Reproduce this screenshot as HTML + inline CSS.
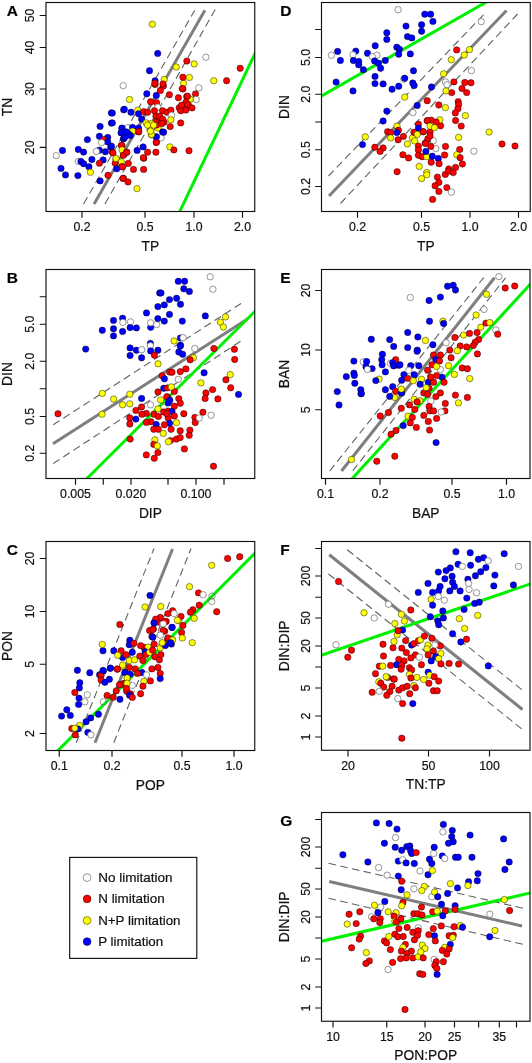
<!DOCTYPE html>
<html><head><meta charset="utf-8"><title>Figure</title>
<style>
html,body{margin:0;padding:0;background:#fff;}
body{width:532px;height:1063px;overflow:hidden;}
svg{display:block;}
text{font-family:"Liberation Sans",sans-serif;fill:#111;stroke:#111;stroke-width:0.2px;}
.tk{font-size:12.3px;}
.lb{font-size:13.8px;}
.pl{font-size:15.5px;font-weight:bold;fill:#000;}
.lg{font-size:13px;}
.ax{stroke:#111;stroke-width:1.15;fill:none;}
.gy{stroke:#7f7f7f;stroke-width:3;fill:none;stroke-linecap:butt;}
.ds{stroke:#606060;stroke-width:1.1;fill:none;stroke-dasharray:7.6 4.4;}
.gn{stroke:#00f000;stroke-width:3;fill:none;}
circle{stroke:#000;stroke-width:0.45;}
.b{fill:#0000ff;}.r{fill:#ff0000;}.y{fill:#ffff00;}.w{fill:#fff;stroke:#6a6a6a;stroke-width:0.7;}.h{fill:none;stroke:#6a6a6a;stroke-width:0.7;}
</style></head><body>
<svg width="532" height="1063" viewBox="0 0 532 1063">
<rect x="0" y="0" width="532" height="1063" fill="#fff"/>
<g id="panel-A">
<clipPath id="cp0"><rect x="46.00" y="2.50" width="208.75" height="209.00"/></clipPath>
<g clip-path="url(#cp0)">
<line class="gy" x1="94.10" y1="203.90" x2="204.90" y2="10.30"/>
<line class="ds" x1="83.60" y1="203.90" x2="194.70" y2="10.30"/>
<line class="ds" x1="105.00" y1="203.90" x2="215.20" y2="9.50"/>
<line class="gn" x1="177.50" y1="216.22" x2="257.00" y2="49.27"/>
<circle class="b" cx="111.4" cy="112.9" r="3.2"/><circle class="b" cx="123.7" cy="109.8" r="3.2"/><circle class="b" cx="111.4" cy="123.1" r="3.2"/><circle class="b" cx="100.1" cy="126.4" r="3.2"/><circle class="b" cx="121.9" cy="128.3" r="3.2"/><circle class="b" cx="121.2" cy="132.9" r="3.2"/><circle class="b" cx="99.4" cy="136.3" r="3.2"/><circle class="b" cx="107.7" cy="137.4" r="3.2"/><circle class="b" cx="87.4" cy="139.6" r="3.2"/><circle class="r" cx="103.9" cy="139.6" r="3.2"/><circle class="b" cx="107.7" cy="141.9" r="3.2"/><circle class="w" cx="101.6" cy="142.6" r="3.2"/><circle class="b" cx="123.4" cy="138.9" r="3.2"/><circle class="r" cx="121.9" cy="145.6" r="3.2"/><circle class="b" cx="110.7" cy="147.1" r="3.2"/><circle class="b" cx="62.5" cy="150.5" r="3.2"/><circle class="b" cx="78.3" cy="149.4" r="3.2"/><circle class="b" cx="83.6" cy="152.1" r="3.2"/><circle class="b" cx="99.4" cy="150.2" r="3.2"/><circle class="b" cx="105.4" cy="151.7" r="3.2"/><circle class="w" cx="96.4" cy="151.4" r="3.2"/><circle class="r" cx="112.2" cy="152.0" r="3.2"/><circle class="w" cx="56.2" cy="155.7" r="3.2"/><circle class="r" cx="123.4" cy="154.7" r="3.2"/><circle class="b" cx="91.9" cy="159.5" r="3.2"/><circle class="b" cx="103.1" cy="159.9" r="3.2"/><circle class="y" cx="115.9" cy="159.2" r="3.2"/><circle class="y" cx="121.2" cy="161.9" r="3.2"/><circle class="w" cx="78.3" cy="161.4" r="3.2"/><circle class="b" cx="80.9" cy="161.4" r="3.2"/><circle class="b" cx="83.6" cy="163.7" r="3.2"/><circle class="b" cx="88.9" cy="166.7" r="3.2"/><circle class="r" cx="99.4" cy="163.2" r="3.2"/><circle class="r" cx="115.2" cy="163.2" r="3.2"/><circle class="b" cx="61.0" cy="168.4" r="3.2"/><circle class="r" cx="121.9" cy="166.7" r="3.2"/><circle class="b" cx="116.7" cy="168.8" r="3.2"/><circle class="b" cx="65.5" cy="174.9" r="3.2"/><circle class="b" cx="77.9" cy="175.6" r="3.2"/><circle class="y" cx="90.4" cy="172.3" r="3.2"/><circle class="b" cx="100.1" cy="180.9" r="3.2"/><circle class="r" cx="108.0" cy="175.3" r="3.2"/><circle class="r" cx="123.4" cy="178.3" r="3.2"/><circle class="w" cx="123.2" cy="85.7" r="3.2"/><circle class="y" cx="129.5" cy="99.5" r="3.2"/><circle class="b" cx="146.8" cy="93.8" r="3.2"/><circle class="b" cx="156.3" cy="95.5" r="3.2"/><circle class="r" cx="155.1" cy="84.5" r="3.2"/><circle class="b" cx="155.1" cy="80.8" r="3.2"/><circle class="y" cx="164.2" cy="79.5" r="3.2"/><circle class="r" cx="163.4" cy="86.0" r="3.2"/><circle class="r" cx="160.4" cy="90.5" r="3.2"/><circle class="r" cx="169.4" cy="94.7" r="3.2"/><circle class="y" cx="183.5" cy="83.3" r="3.2"/><circle class="r" cx="182.9" cy="89.0" r="3.2"/><circle class="r" cx="178.4" cy="97.7" r="3.2"/><circle class="r" cx="186.7" cy="96.5" r="3.2"/><circle class="r" cx="188.2" cy="101.0" r="3.2"/><circle class="r" cx="150.6" cy="101.8" r="3.2"/><circle class="r" cx="156.6" cy="102.6" r="3.2"/><circle class="w" cx="157.8" cy="107.1" r="3.2"/><circle class="b" cx="124.3" cy="109.3" r="3.2"/><circle class="b" cx="131.0" cy="112.3" r="3.2"/><circle class="b" cx="112.3" cy="113.1" r="3.2"/><circle class="y" cx="137.8" cy="110.1" r="3.2"/><circle class="b" cx="138.6" cy="113.8" r="3.2"/><circle class="r" cx="143.8" cy="111.6" r="3.2"/><circle class="r" cx="147.6" cy="112.3" r="3.2"/><circle class="r" cx="154.4" cy="110.8" r="3.2"/><circle class="r" cx="162.6" cy="110.8" r="3.2"/><circle class="r" cx="167.1" cy="112.3" r="3.2"/><circle class="r" cx="170.9" cy="110.1" r="3.2"/><circle class="r" cx="179.2" cy="107.8" r="3.2"/><circle class="r" cx="183.7" cy="107.1" r="3.2"/><circle class="r" cx="180.7" cy="110.8" r="3.2"/><circle class="r" cx="185.9" cy="110.1" r="3.2"/><circle class="r" cx="188.2" cy="104.8" r="3.2"/><circle class="w" cx="171.7" cy="115.3" r="3.2"/><circle class="r" cx="155.9" cy="116.1" r="3.2"/><circle class="y" cx="170.9" cy="119.8" r="3.2"/><circle class="r" cx="159.6" cy="119.8" r="3.2"/><circle class="r" cx="164.1" cy="122.1" r="3.2"/><circle class="r" cx="155.9" cy="122.1" r="3.2"/><circle class="b" cx="141.6" cy="119.1" r="3.2"/><circle class="y" cx="146.1" cy="122.9" r="3.2"/><circle class="y" cx="151.4" cy="123.6" r="3.2"/><circle class="r" cx="180.7" cy="122.9" r="3.2"/><circle class="r" cx="170.2" cy="126.6" r="3.2"/><circle class="b" cx="112.3" cy="122.9" r="3.2"/><circle class="w" cx="128.0" cy="127.8" r="3.2"/><circle class="b" cx="122.0" cy="128.1" r="3.2"/><circle class="b" cx="132.6" cy="127.4" r="3.2"/><circle class="b" cx="138.6" cy="128.1" r="3.2"/><circle class="r" cx="138.6" cy="131.9" r="3.2"/><circle class="y" cx="132.6" cy="131.1" r="3.2"/><circle class="b" cx="121.3" cy="132.6" r="3.2"/><circle class="b" cx="128.8" cy="134.1" r="3.2"/><circle class="b" cx="124.3" cy="137.9" r="3.2"/><circle class="y" cx="151.4" cy="128.9" r="3.2"/><circle class="y" cx="158.1" cy="128.1" r="3.2"/><circle class="b" cx="162.6" cy="131.9" r="3.2"/><circle class="y" cx="151.4" cy="134.9" r="3.2"/><circle class="b" cx="156.3" cy="137.1" r="3.2"/><circle class="w" cx="161.1" cy="137.9" r="3.2"/><circle class="r" cx="156.3" cy="142.4" r="3.2"/><circle class="b" cx="111.5" cy="146.2" r="3.2"/><circle class="r" cx="121.3" cy="145.4" r="3.2"/><circle class="y" cx="122.0" cy="149.9" r="3.2"/><circle class="b" cx="143.1" cy="146.9" r="3.2"/><circle class="b" cx="137.1" cy="150.4" r="3.2"/><circle class="r" cx="147.6" cy="152.2" r="3.2"/><circle class="r" cx="155.9" cy="152.2" r="3.2"/><circle class="y" cx="169.8" cy="146.9" r="3.2"/><circle class="r" cx="173.9" cy="149.9" r="3.2"/><circle class="r" cx="189.0" cy="150.7" r="3.2"/><circle class="r" cx="126.5" cy="152.2" r="3.2"/><circle class="r" cx="123.5" cy="155.2" r="3.2"/><circle class="r" cx="113.0" cy="152.9" r="3.2"/><circle class="y" cx="116.0" cy="158.5" r="3.2"/><circle class="r" cx="143.8" cy="158.2" r="3.2"/><circle class="y" cx="152.3" cy="24.2" r="3.2"/><circle class="b" cx="157.7" cy="53.4" r="3.2"/><circle class="b" cx="149.5" cy="70.7" r="3.2"/><circle class="y" cx="176.2" cy="67.0" r="3.2"/><circle class="r" cx="186.8" cy="61.1" r="3.2"/><circle class="y" cx="194.2" cy="63.9" r="3.2"/><circle class="w" cx="205.9" cy="57.2" r="3.2"/><circle class="r" cx="182.9" cy="77.2" r="3.2"/><circle class="y" cx="189.4" cy="77.5" r="3.2"/><circle class="r" cx="154.8" cy="83.2" r="3.2"/><circle class="r" cx="163.0" cy="84.0" r="3.2"/><circle class="r" cx="240.2" cy="68.3" r="3.2"/><circle class="r" cx="226.6" cy="80.7" r="3.2"/><circle class="y" cx="213.8" cy="80.7" r="3.2"/><circle class="w" cx="198.8" cy="87.9" r="3.2"/><circle class="r" cx="182.3" cy="88.6" r="3.2"/><circle class="r" cx="195.5" cy="93.9" r="3.2"/><circle class="w" cx="196.2" cy="99.5" r="3.2"/><circle class="y" cx="190.2" cy="99.2" r="3.2"/><circle class="r" cx="187.5" cy="96.2" r="3.2"/><circle class="r" cx="186.0" cy="102.2" r="3.2"/><circle class="r" cx="187.5" cy="104.4" r="3.2"/><circle class="r" cx="192.0" cy="107.9" r="3.2"/><circle class="r" cx="181.5" cy="105.2" r="3.2"/><circle class="y" cx="137.0" cy="188.6" r="3.2"/><circle class="r" cx="123.0" cy="178.4" r="3.2"/><circle class="r" cx="128.0" cy="181.9" r="3.2"/><circle class="r" cx="133.5" cy="169.4" r="3.2"/><circle class="r" cx="143.6" cy="169.4" r="3.2"/><circle class="r" cx="128.3" cy="163.4" r="3.2"/><circle class="r" cx="122.3" cy="166.8" r="3.2"/><circle class="r" cx="143.3" cy="157.8" r="3.2"/><circle class="r" cx="126.8" cy="152.3" r="3.2"/><circle class="r" cx="156.4" cy="142.3" r="3.2"/><circle class="b" cx="156.5" cy="136.8" r="3.2"/><circle class="b" cx="163.6" cy="132.3" r="3.2"/><circle class="y" cx="151.6" cy="134.5" r="3.2"/><circle class="r" cx="138.8" cy="131.5" r="3.2"/><circle class="r" cx="159.6" cy="116.1" r="3.2"/><circle class="r" cx="162.6" cy="119.1" r="3.2"/><circle class="r" cx="156.6" cy="125.1" r="3.2"/><circle class="r" cx="161.9" cy="123.6" r="3.2"/><circle class="y" cx="147.6" cy="125.1" r="3.2"/><circle class="y" cx="153.6" cy="125.1" r="3.2"/><circle class="y" cx="150.6" cy="131.1" r="3.2"/><circle class="b" cx="125.0" cy="136.4" r="3.2"/><circle class="b" cx="130.3" cy="135.6" r="3.2"/><circle class="b" cx="126.5" cy="131.9" r="3.2"/>
</g>
<rect class="ax" x="46.00" y="2.50" width="208.75" height="209.00"/>
<path class="ax" d="M39.70 15.50H46.00M39.70 47.50H46.00M39.70 89.00H46.00M39.70 147.30H46.00M82.00 211.50V217.80M145.00 211.50V217.80M194.00 211.50V217.80M242.50 211.50V217.80"/>
<text class="tk" text-anchor="middle" transform="translate(34.20 15.50) rotate(-90)">50</text>
<text class="tk" text-anchor="middle" transform="translate(34.20 47.50) rotate(-90)">40</text>
<text class="tk" text-anchor="middle" transform="translate(34.20 89.00) rotate(-90)">30</text>
<text class="tk" text-anchor="middle" transform="translate(34.20 147.30) rotate(-90)">20</text>
<text class="tk" text-anchor="middle" x="82.00" y="230.80">0.2</text>
<text class="tk" text-anchor="middle" x="145.00" y="230.80">0.5</text>
<text class="tk" text-anchor="middle" x="194.00" y="230.80">1.0</text>
<text class="tk" text-anchor="middle" x="242.50" y="230.80">2.0</text>
<text class="lb" text-anchor="middle" transform="translate(12.00 107.00) rotate(-90)">TN</text>
<text class="lb" text-anchor="middle" x="150.38" y="250.50">TP</text>
<text class="pl" x="6.70" y="16.20">A</text>
</g>
<g id="panel-B">
<clipPath id="cp1"><rect x="46.00" y="269.50" width="208.75" height="209.00"/></clipPath>
<g clip-path="url(#cp1)">
<line class="gy" x1="53.00" y1="443.75" x2="247.50" y2="319.00"/>
<line class="ds" x1="53.25" y1="424.75" x2="242.50" y2="302.50"/>
<line class="ds" x1="53.25" y1="463.50" x2="242.50" y2="340.00"/>
<line class="gn" x1="81.97" y1="483.51" x2="259.78" y2="306.49"/>
<circle class="b" cx="85.7" cy="349.1" r="3.2"/><circle class="b" cx="102.3" cy="330.3" r="3.2"/><circle class="b" cx="113.5" cy="320.4" r="3.2"/><circle class="b" cx="113.5" cy="328.8" r="3.2"/><circle class="b" cx="113.5" cy="335.9" r="3.2"/><circle class="b" cx="122.6" cy="318.3" r="3.2"/><circle class="w" cx="122.9" cy="322.4" r="3.2"/><circle class="b" cx="122.6" cy="331.4" r="3.2"/><circle class="w" cx="130.4" cy="321.9" r="3.2"/><circle class="b" cx="130.1" cy="327.6" r="3.2"/><circle class="b" cx="136.4" cy="327.9" r="3.2"/><circle class="b" cx="146.5" cy="312.9" r="3.2"/><circle class="b" cx="150.7" cy="327.3" r="3.2"/><circle class="w" cx="150.7" cy="322.8" r="3.2"/><circle class="w" cx="156.7" cy="324.6" r="3.2"/><circle class="b" cx="157.9" cy="318.6" r="3.2"/><circle class="b" cx="157.9" cy="306.6" r="3.2"/><circle class="b" cx="159.7" cy="293.0" r="3.2"/><circle class="b" cx="130.1" cy="347.9" r="3.2"/><circle class="b" cx="136.4" cy="350.2" r="3.2"/><circle class="w" cx="141.7" cy="349.7" r="3.2"/><circle class="b" cx="150.4" cy="343.4" r="3.2"/><circle class="w" cx="150.4" cy="345.7" r="3.2"/><circle class="b" cx="150.7" cy="350.9" r="3.2"/><circle class="b" cx="157.9" cy="350.2" r="3.2"/><circle class="b" cx="130.1" cy="355.5" r="3.2"/><circle class="w" cx="210.2" cy="276.8" r="3.2"/><circle class="w" cx="212.9" cy="289.2" r="3.2"/><circle class="b" cx="178.3" cy="281.3" r="3.2"/><circle class="b" cx="184.6" cy="281.3" r="3.2"/><circle class="b" cx="183.8" cy="288.8" r="3.2"/><circle class="b" cx="189.4" cy="291.5" r="3.2"/><circle class="b" cx="161.0" cy="293.0" r="3.2"/><circle class="b" cx="169.5" cy="299.6" r="3.2"/><circle class="b" cx="176.6" cy="298.3" r="3.2"/><circle class="b" cx="180.5" cy="304.3" r="3.2"/><circle class="b" cx="164.3" cy="304.9" r="3.2"/><circle class="b" cx="169.5" cy="314.4" r="3.2"/><circle class="b" cx="164.3" cy="321.1" r="3.2"/><circle class="b" cx="182.3" cy="321.1" r="3.2"/><circle class="b" cx="205.3" cy="315.9" r="3.2"/><circle class="y" cx="225.5" cy="316.9" r="3.2"/><circle class="y" cx="220.4" cy="322.2" r="3.2"/><circle class="y" cx="223.4" cy="327.1" r="3.2"/><circle class="y" cx="174.1" cy="341.0" r="3.2"/><circle class="b" cx="180.5" cy="338.0" r="3.2"/><circle class="w" cx="183.1" cy="337.7" r="3.2"/><circle class="b" cx="180.5" cy="345.2" r="3.2"/><circle class="w" cx="194.8" cy="348.5" r="3.2"/><circle class="r" cx="213.9" cy="348.5" r="3.2"/><circle class="b" cx="141.6" cy="357.8" r="3.2"/><circle class="r" cx="154.4" cy="355.2" r="3.2"/><circle class="y" cx="158.0" cy="363.8" r="3.2"/><circle class="r" cx="162.2" cy="375.8" r="3.2"/><circle class="b" cx="164.4" cy="378.8" r="3.2"/><circle class="r" cx="169.7" cy="372.1" r="3.2"/><circle class="y" cx="102.3" cy="393.4" r="3.2"/><circle class="y" cx="113.6" cy="399.1" r="3.2"/><circle class="y" cx="129.8" cy="394.2" r="3.2"/><circle class="y" cx="122.6" cy="404.8" r="3.2"/><circle class="y" cx="129.8" cy="403.9" r="3.2"/><circle class="y" cx="102.0" cy="414.2" r="3.2"/><circle class="b" cx="141.6" cy="398.4" r="3.2"/><circle class="w" cx="150.6" cy="404.8" r="3.2"/><circle class="r" cx="158.0" cy="391.9" r="3.2"/><circle class="b" cx="163.7" cy="388.3" r="3.2"/><circle class="r" cx="167.4" cy="387.9" r="3.2"/><circle class="y" cx="160.7" cy="399.9" r="3.2"/><circle class="r" cx="167.4" cy="396.9" r="3.2"/><circle class="h" cx="163.7" cy="407.4" r="3.2"/><circle class="y" cx="158.0" cy="408.9" r="3.2"/><circle class="r" cx="141.6" cy="407.0" r="3.2"/><circle class="r" cx="135.9" cy="410.4" r="3.2"/><circle class="r" cx="146.4" cy="413.4" r="3.2"/><circle class="r" cx="141.9" cy="414.2" r="3.2"/><circle class="r" cx="129.8" cy="417.9" r="3.2"/><circle class="b" cx="135.9" cy="419.1" r="3.2"/><circle class="r" cx="129.8" cy="424.0" r="3.2"/><circle class="r" cx="153.9" cy="414.2" r="3.2"/><circle class="r" cx="158.4" cy="416.4" r="3.2"/><circle class="r" cx="150.9" cy="421.7" r="3.2"/><circle class="r" cx="146.4" cy="422.4" r="3.2"/><circle class="r" cx="163.7" cy="411.9" r="3.2"/><circle class="r" cx="168.2" cy="411.2" r="3.2"/><circle class="b" cx="168.2" cy="402.9" r="3.2"/><circle class="r" cx="168.2" cy="417.9" r="3.2"/><circle class="b" cx="156.2" cy="424.5" r="3.2"/><circle class="b" cx="180.3" cy="346.0" r="3.2"/><circle class="b" cx="178.8" cy="352.0" r="3.2"/><circle class="b" cx="182.6" cy="354.3" r="3.2"/><circle class="r" cx="234.4" cy="349.3" r="3.2"/><circle class="r" cx="234.7" cy="359.5" r="3.2"/><circle class="y" cx="193.4" cy="357.7" r="3.2"/><circle class="r" cx="190.1" cy="359.8" r="3.2"/><circle class="r" cx="185.9" cy="368.9" r="3.2"/><circle class="r" cx="180.3" cy="371.6" r="3.2"/><circle class="r" cx="172.0" cy="372.3" r="3.2"/><circle class="w" cx="178.3" cy="379.4" r="3.2"/><circle class="b" cx="204.1" cy="372.8" r="3.2"/><circle class="y" cx="200.9" cy="382.9" r="3.2"/><circle class="y" cx="230.2" cy="374.6" r="3.2"/><circle class="r" cx="225.9" cy="379.8" r="3.2"/><circle class="r" cx="230.7" cy="387.8" r="3.2"/><circle class="b" cx="238.5" cy="394.4" r="3.2"/><circle class="r" cx="212.6" cy="389.6" r="3.2"/><circle class="r" cx="205.9" cy="392.9" r="3.2"/><circle class="r" cx="205.1" cy="398.6" r="3.2"/><circle class="r" cx="217.9" cy="398.9" r="3.2"/><circle class="r" cx="174.3" cy="391.4" r="3.2"/><circle class="y" cx="171.3" cy="386.9" r="3.2"/><circle class="r" cx="166.8" cy="396.8" r="3.2"/><circle class="b" cx="169.8" cy="400.2" r="3.2"/><circle class="r" cx="178.8" cy="398.6" r="3.2"/><circle class="r" cx="180.3" cy="403.2" r="3.2"/><circle class="r" cx="174.3" cy="406.2" r="3.2"/><circle class="b" cx="172.0" cy="411.4" r="3.2"/><circle class="r" cx="166.8" cy="413.7" r="3.2"/><circle class="r" cx="174.3" cy="415.9" r="3.2"/><circle class="r" cx="183.8" cy="413.7" r="3.2"/><circle class="r" cx="202.9" cy="412.2" r="3.2"/><circle class="r" cx="194.9" cy="417.4" r="3.2"/><circle class="w" cx="211.1" cy="415.2" r="3.2"/><circle class="r" cx="130.2" cy="439.1" r="3.2"/><circle class="r" cx="153.8" cy="429.3" r="3.2"/><circle class="r" cx="158.3" cy="429.3" r="3.2"/><circle class="r" cx="195.2" cy="422.6" r="3.2"/><circle class="y" cx="176.4" cy="422.6" r="3.2"/><circle class="b" cx="169.6" cy="423.3" r="3.2"/><circle class="r" cx="164.4" cy="424.8" r="3.2"/><circle class="r" cx="171.1" cy="429.3" r="3.2"/><circle class="r" cx="180.2" cy="430.8" r="3.2"/><circle class="r" cx="189.9" cy="430.1" r="3.2"/><circle class="r" cx="189.2" cy="435.3" r="3.2"/><circle class="y" cx="163.3" cy="433.4" r="3.2"/><circle class="r" cx="176.4" cy="439.1" r="3.2"/><circle class="r" cx="180.2" cy="437.6" r="3.2"/><circle class="y" cx="154.9" cy="439.8" r="3.2"/><circle class="r" cx="170.4" cy="440.6" r="3.2"/><circle class="y" cx="168.4" cy="441.8" r="3.2"/><circle class="r" cx="153.8" cy="444.4" r="3.2"/><circle class="y" cx="157.3" cy="445.9" r="3.2"/><circle class="r" cx="184.4" cy="448.9" r="3.2"/><circle class="r" cx="157.9" cy="452.6" r="3.2"/><circle class="r" cx="146.3" cy="454.9" r="3.2"/><circle class="r" cx="154.3" cy="458.3" r="3.2"/><circle class="w" cx="199.3" cy="418.0" r="3.2"/><circle class="r" cx="213.5" cy="466.3" r="3.2"/><circle class="r" cx="58.0" cy="413.8" r="3.2"/>
</g>
<rect class="ax" x="46.00" y="269.50" width="208.75" height="209.00"/>
<path class="ax" d="M39.70 296.75H46.00M39.70 324.25H46.00M39.70 361.25H46.00M39.70 388.75H46.00M39.70 416.50H46.00M39.70 453.20H46.00M75.50 478.50V484.80M103.25 478.50V484.80M131.00 478.50V484.80M168.00 478.50V484.80M196.00 478.50V484.80M224.00 478.50V484.80"/>
<text class="tk" text-anchor="middle" transform="translate(34.20 324.25) rotate(-90)">5.0</text>
<text class="tk" text-anchor="middle" transform="translate(34.20 361.25) rotate(-90)">2.0</text>
<text class="tk" text-anchor="middle" transform="translate(34.20 416.50) rotate(-90)">0.5</text>
<text class="tk" text-anchor="middle" transform="translate(34.20 453.20) rotate(-90)">0.2</text>
<text class="tk" text-anchor="middle" x="75.50" y="497.80">0.005</text>
<text class="tk" text-anchor="middle" x="131.00" y="497.80">0.020</text>
<text class="tk" text-anchor="middle" x="196.00" y="497.80">0.100</text>
<text class="lb" text-anchor="middle" transform="translate(12.00 374.00) rotate(-90)">DIN</text>
<text class="lb" text-anchor="middle" x="150.38" y="517.50">DIP</text>
<text class="pl" x="6.70" y="283.20">B</text>
</g>
<g id="panel-C">
<clipPath id="cp2"><rect x="46.00" y="541.50" width="208.75" height="209.00"/></clipPath>
<g clip-path="url(#cp2)">
<line class="gy" x1="95.00" y1="742.75" x2="172.50" y2="549.00"/>
<line class="ds" x1="76.25" y1="742.75" x2="154.00" y2="548.50"/>
<line class="ds" x1="113.75" y1="742.75" x2="191.00" y2="548.50"/>
<line class="gn" x1="52.10" y1="756.41" x2="260.65" y2="547.59"/>
<circle class="b" cx="77.4" cy="670.3" r="3.2"/><circle class="b" cx="89.8" cy="672.8" r="3.2"/><circle class="b" cx="103.4" cy="671.0" r="3.2"/><circle class="b" cx="110.2" cy="668.3" r="3.2"/><circle class="r" cx="117.4" cy="669.2" r="3.2"/><circle class="y" cx="122.9" cy="666.5" r="3.2"/><circle class="b" cx="99.6" cy="674.8" r="3.2"/><circle class="r" cx="101.1" cy="675.2" r="3.2"/><circle class="r" cx="101.1" cy="680.0" r="3.2"/><circle class="b" cx="109.4" cy="679.3" r="3.2"/><circle class="b" cx="104.9" cy="682.3" r="3.2"/><circle class="b" cx="79.8" cy="682.7" r="3.2"/><circle class="b" cx="79.3" cy="687.9" r="3.2"/><circle class="r" cx="74.8" cy="692.5" r="3.2"/><circle class="w" cx="87.3" cy="694.8" r="3.2"/><circle class="b" cx="79.0" cy="698.1" r="3.2"/><circle class="w" cx="84.9" cy="701.8" r="3.2"/><circle class="b" cx="78.6" cy="704.4" r="3.2"/><circle class="h" cx="103.4" cy="701.8" r="3.2"/><circle class="r" cx="107.1" cy="695.4" r="3.2"/><circle class="r" cx="113.2" cy="697.3" r="3.2"/><circle class="r" cx="116.2" cy="690.9" r="3.2"/><circle class="b" cx="119.9" cy="699.3" r="3.2"/><circle class="r" cx="120.7" cy="684.5" r="3.2"/><circle class="r" cx="124.4" cy="683.3" r="3.2"/><circle class="y" cx="127.4" cy="678.5" r="3.2"/><circle class="b" cx="125.2" cy="672.5" r="3.2"/><circle class="r" cx="126.7" cy="691.3" r="3.2"/><circle class="b" cx="66.8" cy="709.8" r="3.2"/><circle class="b" cx="61.6" cy="716.1" r="3.2"/><circle class="b" cx="70.3" cy="715.4" r="3.2"/><circle class="b" cx="98.4" cy="714.3" r="3.2"/><circle class="b" cx="90.6" cy="717.9" r="3.2"/><circle class="b" cx="86.1" cy="721.8" r="3.2"/><circle class="r" cx="71.8" cy="728.5" r="3.2"/><circle class="y" cx="79.6" cy="725.5" r="3.2"/><circle class="b" cx="77.8" cy="728.9" r="3.2"/><circle class="y" cx="74.8" cy="728.2" r="3.2"/><circle class="r" cx="75.3" cy="734.9" r="3.2"/><circle class="b" cx="87.9" cy="732.4" r="3.2"/><circle class="w" cx="90.9" cy="734.9" r="3.2"/><circle class="r" cx="119.8" cy="624.5" r="3.2"/><circle class="b" cx="103.0" cy="650.8" r="3.2"/><circle class="y" cx="102.3" cy="644.4" r="3.2"/><circle class="b" cx="129.8" cy="640.3" r="3.2"/><circle class="b" cx="129.3" cy="644.8" r="3.2"/><circle class="r" cx="133.8" cy="643.3" r="3.2"/><circle class="b" cx="113.8" cy="650.8" r="3.2"/><circle class="r" cx="121.1" cy="650.8" r="3.2"/><circle class="b" cx="122.6" cy="657.6" r="3.2"/><circle class="y" cx="117.7" cy="655.3" r="3.2"/><circle class="r" cx="125.9" cy="654.6" r="3.2"/><circle class="b" cx="132.3" cy="652.3" r="3.2"/><circle class="y" cx="129.3" cy="660.6" r="3.2"/><circle class="y" cx="134.6" cy="659.8" r="3.2"/><circle class="y" cx="122.6" cy="665.1" r="3.2"/><circle class="r" cx="139.8" cy="656.1" r="3.2"/><circle class="r" cx="142.9" cy="660.6" r="3.2"/><circle class="r" cx="143.6" cy="647.1" r="3.2"/><circle class="r" cx="140.6" cy="645.6" r="3.2"/><circle class="y" cx="148.1" cy="647.1" r="3.2"/><circle class="b" cx="145.1" cy="651.6" r="3.2"/><circle class="r" cx="145.9" cy="654.6" r="3.2"/><circle class="y" cx="149.6" cy="652.3" r="3.2"/><circle class="r" cx="152.6" cy="650.1" r="3.2"/><circle class="r" cx="154.1" cy="644.1" r="3.2"/><circle class="r" cx="154.9" cy="656.8" r="3.2"/><circle class="r" cx="159.4" cy="659.8" r="3.2"/><circle class="r" cx="160.9" cy="654.6" r="3.2"/><circle class="y" cx="160.2" cy="647.8" r="3.2"/><circle class="y" cx="162.4" cy="643.3" r="3.2"/><circle class="b" cx="165.4" cy="645.6" r="3.2"/><circle class="b" cx="171.4" cy="644.1" r="3.2"/><circle class="r" cx="167.7" cy="638.8" r="3.2"/><circle class="y" cx="172.2" cy="639.5" r="3.2"/><circle class="r" cx="164.7" cy="631.3" r="3.2"/><circle class="w" cx="160.2" cy="635.0" r="3.2"/><circle class="b" cx="152.5" cy="637.0" r="3.2"/><circle class="r" cx="151.9" cy="636.5" r="3.2"/><circle class="r" cx="149.6" cy="630.5" r="3.2"/><circle class="r" cx="153.4" cy="629.0" r="3.2"/><circle class="b" cx="154.1" cy="622.7" r="3.2"/><circle class="r" cx="159.4" cy="622.3" r="3.2"/><circle class="w" cx="162.9" cy="624.5" r="3.2"/><circle class="r" cx="166.2" cy="621.5" r="3.2"/><circle class="b" cx="171.9" cy="627.5" r="3.2"/><circle class="y" cx="178.9" cy="620.8" r="3.2"/><circle class="b" cx="110.5" cy="668.1" r="3.2"/><circle class="b" cx="103.0" cy="670.4" r="3.2"/><circle class="r" cx="117.3" cy="668.9" r="3.2"/><circle class="r" cx="129.3" cy="667.4" r="3.2"/><circle class="r" cx="135.3" cy="668.9" r="3.2"/><circle class="b" cx="124.8" cy="672.6" r="3.2"/><circle class="b" cx="142.1" cy="672.6" r="3.2"/><circle class="r" cx="137.6" cy="673.4" r="3.2"/><circle class="b" cx="130.1" cy="674.1" r="3.2"/><circle class="y" cx="127.1" cy="677.9" r="3.2"/><circle class="w" cx="146.6" cy="674.9" r="3.2"/><circle class="r" cx="151.9" cy="668.9" r="3.2"/><circle class="r" cx="157.9" cy="667.4" r="3.2"/><circle class="r" cx="160.2" cy="673.4" r="3.2"/><circle class="b" cx="160.2" cy="678.6" r="3.2"/><circle class="r" cx="150.4" cy="680.9" r="3.2"/><circle class="y" cx="143.9" cy="681.4" r="3.2"/><circle class="r" cx="142.9" cy="686.2" r="3.2"/><circle class="w" cx="132.3" cy="685.4" r="3.2"/><circle class="r" cx="123.3" cy="683.9" r="3.2"/><circle class="y" cx="127.1" cy="683.2" r="3.2"/><circle class="r" cx="119.5" cy="684.7" r="3.2"/><circle class="r" cx="126.3" cy="688.4" r="3.2"/><circle class="r" cx="130.1" cy="693.7" r="3.2"/><circle class="r" cx="140.6" cy="693.7" r="3.2"/><circle class="b" cx="129.6" cy="695.3" r="3.2"/><circle class="r" cx="132.3" cy="697.4" r="3.2"/><circle class="r" cx="227.6" cy="558.5" r="3.2"/><circle class="r" cx="239.7" cy="556.7" r="3.2"/><circle class="y" cx="211.7" cy="565.3" r="3.2"/><circle class="y" cx="189.5" cy="586.7" r="3.2"/><circle class="r" cx="198.5" cy="592.9" r="3.2"/><circle class="w" cx="203.2" cy="594.8" r="3.2"/><circle class="h" cx="212.0" cy="596.1" r="3.2"/><circle class="h" cx="211.7" cy="601.4" r="3.2"/><circle class="r" cx="199.2" cy="605.2" r="3.2"/><circle class="r" cx="216.7" cy="611.7" r="3.2"/><circle class="y" cx="160.7" cy="606.5" r="3.2"/><circle class="r" cx="172.6" cy="610.8" r="3.2"/><circle class="r" cx="167.9" cy="613.6" r="3.2"/><circle class="w" cx="174.1" cy="613.6" r="3.2"/><circle class="r" cx="192.9" cy="609.8" r="3.2"/><circle class="r" cx="190.4" cy="612.3" r="3.2"/><circle class="y" cx="194.2" cy="618.3" r="3.2"/><circle class="r" cx="181.0" cy="616.4" r="3.2"/><circle class="y" cx="177.3" cy="620.2" r="3.2"/><circle class="r" cx="182.9" cy="625.5" r="3.2"/><circle class="b" cx="172.2" cy="627.3" r="3.2"/><circle class="r" cx="181.6" cy="632.4" r="3.2"/><circle class="y" cx="182.3" cy="638.0" r="3.2"/><circle class="y" cx="192.3" cy="642.7" r="3.2"/><circle class="r" cx="160.3" cy="617.4" r="3.2"/><circle class="r" cx="155.6" cy="619.2" r="3.2"/><circle class="b" cx="154.1" cy="623.0" r="3.2"/><circle class="r" cx="165.0" cy="621.7" r="3.2"/><circle class="w" cx="163.2" cy="623.9" r="3.2"/><circle class="r" cx="152.8" cy="629.6" r="3.2"/><circle class="r" cx="163.2" cy="630.5" r="3.2"/><circle class="w" cx="160.3" cy="635.2" r="3.2"/><circle class="b" cx="152.8" cy="637.1" r="3.2"/><circle class="r" cx="167.9" cy="638.0" r="3.2"/><circle class="y" cx="172.6" cy="639.9" r="3.2"/><circle class="b" cx="170.7" cy="642.7" r="3.2"/><circle class="y" cx="162.2" cy="642.7" r="3.2"/><circle class="b" cx="150.0" cy="595.4" r="3.2"/><circle class="y" cx="145.0" cy="607.0" r="3.2"/>
</g>
<rect class="ax" x="46.00" y="541.50" width="208.75" height="209.00"/>
<path class="ax" d="M39.70 558.50H46.00M39.70 611.50H46.00M39.70 664.25H46.00M39.70 733.50H46.00M59.25 750.50V756.80M112.00 750.50V756.80M182.00 750.50V756.80M234.00 750.50V756.80"/>
<text class="tk" text-anchor="middle" transform="translate(34.20 558.50) rotate(-90)">20</text>
<text class="tk" text-anchor="middle" transform="translate(34.20 611.50) rotate(-90)">10</text>
<text class="tk" text-anchor="middle" transform="translate(34.20 664.25) rotate(-90)">5</text>
<text class="tk" text-anchor="middle" transform="translate(34.20 733.50) rotate(-90)">2</text>
<text class="tk" text-anchor="middle" x="59.25" y="769.80">0.1</text>
<text class="tk" text-anchor="middle" x="112.00" y="769.80">0.2</text>
<text class="tk" text-anchor="middle" x="182.00" y="769.80">0.5</text>
<text class="tk" text-anchor="middle" x="234.00" y="769.80">1.0</text>
<text class="lb" text-anchor="middle" transform="translate(12.00 646.00) rotate(-90)">PON</text>
<text class="lb" text-anchor="middle" x="150.38" y="789.50">POP</text>
<text class="pl" x="6.70" y="555.20">C</text>
</g>
<g id="panel-D">
<clipPath id="cp3"><rect x="321.50" y="2.50" width="208.75" height="209.00"/></clipPath>
<g clip-path="url(#cp3)">
<line class="gy" x1="329.00" y1="196.00" x2="506.50" y2="10.50"/>
<line class="ds" x1="328.50" y1="176.00" x2="484.50" y2="13.70"/>
<line class="ds" x1="340.50" y1="203.50" x2="517.50" y2="14.00"/>
<line class="gn" x1="316.58" y1="98.81" x2="490.42" y2="-0.30"/>
<circle class="w" cx="398.1" cy="9.7" r="3.2"/><circle class="b" cx="406.0" cy="26.1" r="3.2"/><circle class="b" cx="421.6" cy="24.7" r="3.2"/><circle class="b" cx="421.6" cy="31.3" r="3.2"/><circle class="b" cx="386.8" cy="32.8" r="3.2"/><circle class="b" cx="386.8" cy="39.4" r="3.2"/><circle class="b" cx="407.5" cy="36.6" r="3.2"/><circle class="b" cx="411.8" cy="37.9" r="3.2"/><circle class="b" cx="375.2" cy="45.8" r="3.2"/><circle class="b" cx="396.8" cy="47.3" r="3.2"/><circle class="b" cx="399.4" cy="49.2" r="3.2"/><circle class="b" cx="398.7" cy="54.2" r="3.2"/><circle class="b" cx="410.3" cy="53.9" r="3.2"/><circle class="b" cx="337.6" cy="51.4" r="3.2"/><circle class="w" cx="331.4" cy="55.2" r="3.2"/><circle class="b" cx="340.4" cy="60.5" r="3.2"/><circle class="b" cx="355.8" cy="51.1" r="3.2"/><circle class="w" cx="353.0" cy="54.8" r="3.2"/><circle class="b" cx="353.4" cy="60.5" r="3.2"/><circle class="b" cx="358.7" cy="61.4" r="3.2"/><circle class="b" cx="358.7" cy="64.8" r="3.2"/><circle class="b" cx="367.5" cy="53.3" r="3.2"/><circle class="w" cx="376.9" cy="55.2" r="3.2"/><circle class="w" cx="372.4" cy="56.7" r="3.2"/><circle class="b" cx="374.6" cy="61.0" r="3.2"/><circle class="b" cx="378.4" cy="63.3" r="3.2"/><circle class="b" cx="385.3" cy="60.5" r="3.2"/><circle class="b" cx="380.6" cy="68.3" r="3.2"/><circle class="b" cx="363.4" cy="69.8" r="3.2"/><circle class="b" cx="375.0" cy="76.4" r="3.2"/><circle class="b" cx="375.0" cy="83.6" r="3.2"/><circle class="b" cx="383.1" cy="83.9" r="3.2"/><circle class="b" cx="336.1" cy="82.1" r="3.2"/><circle class="b" cx="353.0" cy="90.9" r="3.2"/><circle class="b" cx="392.1" cy="89.2" r="3.2"/><circle class="b" cx="398.7" cy="86.2" r="3.2"/><circle class="b" cx="413.5" cy="70.8" r="3.2"/><circle class="w" cx="403.8" cy="79.2" r="3.2"/><circle class="b" cx="404.7" cy="78.3" r="3.2"/><circle class="b" cx="412.8" cy="83.0" r="3.2"/><circle class="b" cx="414.1" cy="85.5" r="3.2"/><circle class="y" cx="404.7" cy="97.1" r="3.2"/><circle class="b" cx="424.8" cy="14.2" r="3.2"/><circle class="b" cx="430.6" cy="14.2" r="3.2"/><circle class="b" cx="432.9" cy="21.4" r="3.2"/><circle class="w" cx="481.2" cy="21.7" r="3.2"/><circle class="r" cx="456.7" cy="49.9" r="3.2"/><circle class="y" cx="469.5" cy="49.6" r="3.2"/><circle class="y" cx="464.2" cy="55.0" r="3.2"/><circle class="y" cx="451.3" cy="59.7" r="3.2"/><circle class="y" cx="443.6" cy="73.8" r="3.2"/><circle class="w" cx="471.4" cy="70.6" r="3.2"/><circle class="w" cx="445.5" cy="81.9" r="3.2"/><circle class="w" cx="447.0" cy="84.7" r="3.2"/><circle class="r" cx="453.9" cy="81.9" r="3.2"/><circle class="r" cx="464.8" cy="82.5" r="3.2"/><circle class="r" cx="471.0" cy="82.8" r="3.2"/><circle class="r" cx="462.0" cy="88.5" r="3.2"/><circle class="r" cx="466.7" cy="92.6" r="3.2"/><circle class="r" cx="451.7" cy="92.6" r="3.2"/><circle class="y" cx="446.0" cy="90.9" r="3.2"/><circle class="b" cx="431.5" cy="87.0" r="3.2"/><circle class="r" cx="427.2" cy="100.7" r="3.2"/><circle class="r" cx="458.2" cy="101.6" r="3.2"/><circle class="b" cx="417.2" cy="105.5" r="3.2"/><circle class="w" cx="412.9" cy="112.7" r="3.2"/><circle class="b" cx="386.8" cy="111.1" r="3.2"/><circle class="b" cx="383.1" cy="121.0" r="3.2"/><circle class="y" cx="397.1" cy="126.1" r="3.2"/><circle class="r" cx="398.4" cy="130.3" r="3.2"/><circle class="b" cx="396.9" cy="132.6" r="3.2"/><circle class="r" cx="387.6" cy="131.8" r="3.2"/><circle class="r" cx="390.6" cy="132.6" r="3.2"/><circle class="y" cx="390.6" cy="137.9" r="3.2"/><circle class="r" cx="403.4" cy="136.4" r="3.2"/><circle class="r" cx="398.1" cy="139.8" r="3.2"/><circle class="y" cx="365.3" cy="136.8" r="3.2"/><circle class="b" cx="362.5" cy="144.6" r="3.2"/><circle class="r" cx="374.8" cy="147.3" r="3.2"/><circle class="r" cx="383.1" cy="147.9" r="3.2"/><circle class="r" cx="380.1" cy="151.4" r="3.2"/><circle class="y" cx="407.4" cy="143.9" r="3.2"/><circle class="y" cx="412.4" cy="137.9" r="3.2"/><circle class="y" cx="414.7" cy="140.9" r="3.2"/><circle class="r" cx="413.9" cy="132.3" r="3.2"/><circle class="y" cx="417.7" cy="133.3" r="3.2"/><circle class="r" cx="418.4" cy="124.3" r="3.2"/><circle class="b" cx="418.4" cy="128.1" r="3.2"/><circle class="r" cx="423.2" cy="131.8" r="3.2"/><circle class="r" cx="427.4" cy="120.6" r="3.2"/><circle class="r" cx="418.4" cy="146.1" r="3.2"/><circle class="r" cx="418.4" cy="149.9" r="3.2"/><circle class="r" cx="418.4" cy="155.2" r="3.2"/><circle class="r" cx="402.9" cy="154.8" r="3.2"/><circle class="r" cx="408.6" cy="157.9" r="3.2"/><circle class="r" cx="425.2" cy="143.1" r="3.2"/><circle class="r" cx="428.2" cy="139.4" r="3.2"/><circle class="r" cx="422.2" cy="156.7" r="3.2"/><circle class="y" cx="426.7" cy="156.7" r="3.2"/><circle class="b" cx="425.9" cy="151.4" r="3.2"/><circle class="y" cx="419.2" cy="166.4" r="3.2"/><circle class="r" cx="397.1" cy="171.7" r="3.2"/><circle class="y" cx="426.7" cy="172.4" r="3.2"/><circle class="r" cx="438.8" cy="105.0" r="3.2"/><circle class="y" cx="445.5" cy="107.6" r="3.2"/><circle class="r" cx="458.6" cy="104.6" r="3.2"/><circle class="r" cx="457.9" cy="108.8" r="3.2"/><circle class="r" cx="455.3" cy="112.9" r="3.2"/><circle class="y" cx="465.4" cy="115.6" r="3.2"/><circle class="r" cx="455.6" cy="120.5" r="3.2"/><circle class="r" cx="461.2" cy="126.1" r="3.2"/><circle class="y" cx="489.1" cy="132.1" r="3.2"/><circle class="y" cx="458.6" cy="137.4" r="3.2"/><circle class="w" cx="473.9" cy="151.2" r="3.2"/><circle class="r" cx="459.7" cy="149.4" r="3.2"/><circle class="y" cx="456.8" cy="154.7" r="3.2"/><circle class="r" cx="460.1" cy="157.7" r="3.2"/><circle class="r" cx="462.4" cy="164.0" r="3.2"/><circle class="r" cx="455.6" cy="167.4" r="3.2"/><circle class="r" cx="448.8" cy="168.9" r="3.2"/><circle class="r" cx="445.5" cy="146.4" r="3.2"/><circle class="r" cx="444.6" cy="155.0" r="3.2"/><circle class="b" cx="438.3" cy="158.4" r="3.2"/><circle class="r" cx="439.1" cy="163.7" r="3.2"/><circle class="r" cx="431.2" cy="162.2" r="3.2"/><circle class="b" cx="432.3" cy="156.2" r="3.2"/><circle class="w" cx="435.8" cy="148.6" r="3.2"/><circle class="w" cx="433.3" cy="140.7" r="3.2"/><circle class="r" cx="430.8" cy="146.4" r="3.2"/><circle class="r" cx="427.8" cy="138.9" r="3.2"/><circle class="r" cx="425.5" cy="143.4" r="3.2"/><circle class="r" cx="430.0" cy="132.1" r="3.2"/><circle class="r" cx="423.3" cy="131.7" r="3.2"/><circle class="r" cx="440.6" cy="125.8" r="3.2"/><circle class="y" cx="439.8" cy="119.8" r="3.2"/><circle class="r" cx="436.1" cy="122.0" r="3.2"/><circle class="r" cx="431.2" cy="120.1" r="3.2"/><circle class="r" cx="427.3" cy="120.8" r="3.2"/><circle class="y" cx="430.0" cy="126.1" r="3.2"/><circle class="y" cx="434.5" cy="127.6" r="3.2"/><circle class="y" cx="417.3" cy="134.4" r="3.2"/><circle class="r" cx="430.0" cy="135.9" r="3.2"/><circle class="y" cx="426.8" cy="174.8" r="3.2"/><circle class="y" cx="421.6" cy="178.6" r="3.2"/><circle class="r" cx="437.4" cy="177.1" r="3.2"/><circle class="r" cx="438.9" cy="182.4" r="3.2"/><circle class="r" cx="435.1" cy="185.8" r="3.2"/><circle class="r" cx="438.9" cy="191.4" r="3.2"/><circle class="r" cx="446.8" cy="187.6" r="3.2"/><circle class="w" cx="451.4" cy="192.1" r="3.2"/><circle class="r" cx="432.6" cy="199.4" r="3.2"/><circle class="r" cx="445.3" cy="174.4" r="3.2"/><circle class="r" cx="448.6" cy="171.1" r="3.2"/><circle class="r" cx="453.2" cy="172.6" r="3.2"/><circle class="r" cx="502.0" cy="144.0" r="3.2"/><circle class="r" cx="515.0" cy="146.0" r="3.2"/>
</g>
<rect class="ax" x="321.50" y="2.50" width="208.75" height="209.00"/>
<path class="ax" d="M315.20 29.50H321.50M315.20 57.50H321.50M315.20 94.25H321.50M315.20 122.00H321.50M315.20 149.75H321.50M315.20 186.50H321.50M357.50 211.50V217.80M421.50 211.50V217.80M470.00 211.50V217.80M518.50 211.50V217.80"/>
<text class="tk" text-anchor="middle" transform="translate(309.70 57.50) rotate(-90)">5.0</text>
<text class="tk" text-anchor="middle" transform="translate(309.70 94.25) rotate(-90)">2.0</text>
<text class="tk" text-anchor="middle" transform="translate(309.70 149.75) rotate(-90)">0.5</text>
<text class="tk" text-anchor="middle" transform="translate(309.70 186.50) rotate(-90)">0.2</text>
<text class="tk" text-anchor="middle" x="357.50" y="230.80">0.2</text>
<text class="tk" text-anchor="middle" x="421.50" y="230.80">0.5</text>
<text class="tk" text-anchor="middle" x="470.00" y="230.80">1.0</text>
<text class="tk" text-anchor="middle" x="518.50" y="230.80">2.0</text>
<text class="lb" text-anchor="middle" transform="translate(289.30 107.00) rotate(-90)">DIN</text>
<text class="lb" text-anchor="middle" x="425.88" y="250.50">TP</text>
<text class="pl" x="280.20" y="16.20">D</text>
</g>
<g id="panel-E">
<clipPath id="cp4"><rect x="321.50" y="269.50" width="208.50" height="209.00"/></clipPath>
<g clip-path="url(#cp4)">
<line class="gy" x1="341.50" y1="471.00" x2="494.50" y2="277.80"/>
<line class="ds" x1="329.75" y1="471.00" x2="483.70" y2="277.60"/>
<line class="ds" x1="352.80" y1="470.70" x2="505.60" y2="277.80"/>
<line class="gn" x1="346.92" y1="484.32" x2="535.33" y2="278.68"/>
<circle class="y" cx="351.5" cy="459.5" r="3.2"/><circle class="r" cx="376.8" cy="461.2" r="3.2"/><circle class="r" cx="394.8" cy="456.2" r="3.2"/><circle class="r" cx="380.2" cy="416.0" r="3.2"/><circle class="r" cx="388.5" cy="412.5" r="3.2"/><circle class="r" cx="391.0" cy="434.2" r="3.2"/><circle class="r" cx="396.0" cy="430.5" r="3.2"/><circle class="b" cx="339.0" cy="405.0" r="3.2"/><circle class="b" cx="361.0" cy="393.8" r="3.2"/><circle class="y" cx="394.8" cy="397.5" r="3.2"/><circle class="b" cx="371.3" cy="339.3" r="3.2"/><circle class="b" cx="389.7" cy="339.6" r="3.2"/><circle class="b" cx="393.7" cy="346.4" r="3.2"/><circle class="b" cx="407.7" cy="332.5" r="3.2"/><circle class="b" cx="407.7" cy="347.6" r="3.2"/><circle class="b" cx="382.4" cy="354.3" r="3.2"/><circle class="b" cx="381.7" cy="359.6" r="3.2"/><circle class="b" cx="382.1" cy="364.8" r="3.2"/><circle class="r" cx="395.7" cy="359.6" r="3.2"/><circle class="w" cx="390.4" cy="363.3" r="3.2"/><circle class="b" cx="392.7" cy="362.6" r="3.2"/><circle class="b" cx="393.7" cy="365.9" r="3.2"/><circle class="b" cx="398.7" cy="365.3" r="3.2"/><circle class="b" cx="353.9" cy="361.1" r="3.2"/><circle class="w" cx="363.3" cy="361.8" r="3.2"/><circle class="b" cx="366.6" cy="361.5" r="3.2"/><circle class="b" cx="366.0" cy="366.8" r="3.2"/><circle class="b" cx="372.1" cy="368.6" r="3.2"/><circle class="w" cx="367.4" cy="369.4" r="3.2"/><circle class="b" cx="385.4" cy="371.9" r="3.2"/><circle class="b" cx="353.9" cy="373.1" r="3.2"/><circle class="b" cx="354.3" cy="375.4" r="3.2"/><circle class="b" cx="346.3" cy="376.6" r="3.2"/><circle class="b" cx="354.8" cy="383.3" r="3.2"/><circle class="y" cx="379.1" cy="379.1" r="3.2"/><circle class="b" cx="375.8" cy="380.6" r="3.2"/><circle class="b" cx="403.9" cy="374.6" r="3.2"/><circle class="b" cx="401.7" cy="380.3" r="3.2"/><circle class="r" cx="407.7" cy="378.4" r="3.2"/><circle class="b" cx="392.7" cy="386.7" r="3.2"/><circle class="b" cx="385.4" cy="389.7" r="3.2"/><circle class="r" cx="395.7" cy="391.2" r="3.2"/><circle class="y" cx="401.4" cy="389.7" r="3.2"/><circle class="b" cx="401.7" cy="393.0" r="3.2"/><circle class="b" cx="389.7" cy="396.4" r="3.2"/><circle class="b" cx="360.8" cy="389.7" r="3.2"/><circle class="b" cx="361.4" cy="393.4" r="3.2"/><circle class="b" cx="337.3" cy="391.6" r="3.2"/><circle class="w" cx="410.3" cy="297.5" r="3.2"/><circle class="b" cx="447.6" cy="286.2" r="3.2"/><circle class="b" cx="453.2" cy="285.3" r="3.2"/><circle class="b" cx="455.5" cy="290.0" r="3.2"/><circle class="b" cx="440.4" cy="297.1" r="3.2"/><circle class="b" cx="429.1" cy="300.5" r="3.2"/><circle class="b" cx="429.5" cy="321.2" r="3.2"/><circle class="y" cx="442.9" cy="321.2" r="3.2"/><circle class="b" cx="443.6" cy="323.5" r="3.2"/><circle class="b" cx="417.9" cy="337.0" r="3.2"/><circle class="y" cx="425.4" cy="340.4" r="3.2"/><circle class="b" cx="432.9" cy="344.7" r="3.2"/><circle class="b" cx="417.3" cy="350.1" r="3.2"/><circle class="w" cx="446.1" cy="342.8" r="3.2"/><circle class="r" cx="454.9" cy="337.5" r="3.2"/><circle class="y" cx="463.5" cy="335.1" r="3.2"/><circle class="r" cx="469.5" cy="333.4" r="3.2"/><circle class="r" cx="477.1" cy="332.5" r="3.2"/><circle class="y" cx="480.8" cy="327.2" r="3.2"/><circle class="r" cx="485.9" cy="323.1" r="3.2"/><circle class="y" cx="489.8" cy="322.5" r="3.2"/><circle class="y" cx="476.1" cy="315.0" r="3.2"/><circle class="w" cx="484.0" cy="309.4" r="3.2"/><circle class="y" cx="486.5" cy="294.3" r="3.2"/><circle class="w" cx="498.9" cy="276.6" r="3.2"/><circle class="w" cx="495.9" cy="330.0" r="3.2"/><circle class="r" cx="497.7" cy="334.2" r="3.2"/><circle class="r" cx="478.6" cy="339.4" r="3.2"/><circle class="r" cx="475.2" cy="342.2" r="3.2"/><circle class="r" cx="473.3" cy="345.6" r="3.2"/><circle class="r" cx="466.7" cy="346.9" r="3.2"/><circle class="r" cx="460.2" cy="346.0" r="3.2"/><circle class="y" cx="457.3" cy="350.7" r="3.2"/><circle class="r" cx="449.8" cy="350.1" r="3.2"/><circle class="r" cx="477.4" cy="353.9" r="3.2"/><circle class="r" cx="451.1" cy="357.8" r="3.2"/><circle class="r" cx="433.5" cy="355.0" r="3.2"/><circle class="r" cx="440.4" cy="355.0" r="3.2"/><circle class="b" cx="435.7" cy="359.5" r="3.2"/><circle class="r" cx="439.5" cy="361.0" r="3.2"/><circle class="y" cx="448.5" cy="365.7" r="3.2"/><circle class="r" cx="432.0" cy="364.8" r="3.2"/><circle class="b" cx="418.8" cy="365.7" r="3.2"/><circle class="b" cx="410.7" cy="365.7" r="3.2"/><circle class="b" cx="400.0" cy="364.8" r="3.2"/><circle class="b" cx="417.1" cy="351.2" r="3.2"/><circle class="w" cx="408.8" cy="370.3" r="3.2"/><circle class="b" cx="414.1" cy="374.8" r="3.2"/><circle class="y" cx="413.3" cy="380.8" r="3.2"/><circle class="y" cx="421.6" cy="379.3" r="3.2"/><circle class="b" cx="420.1" cy="384.3" r="3.2"/><circle class="b" cx="428.3" cy="382.3" r="3.2"/><circle class="r" cx="427.6" cy="370.3" r="3.2"/><circle class="w" cx="440.4" cy="369.5" r="3.2"/><circle class="y" cx="436.6" cy="366.5" r="3.2"/><circle class="r" cx="462.2" cy="368.0" r="3.2"/><circle class="r" cx="467.4" cy="368.8" r="3.2"/><circle class="y" cx="454.4" cy="374.4" r="3.2"/><circle class="y" cx="469.7" cy="378.6" r="3.2"/><circle class="b" cx="441.9" cy="377.1" r="3.2"/><circle class="r" cx="436.6" cy="375.6" r="3.2"/><circle class="r" cx="430.6" cy="377.1" r="3.2"/><circle class="r" cx="444.1" cy="382.3" r="3.2"/><circle class="r" cx="433.6" cy="382.3" r="3.2"/><circle class="r" cx="429.1" cy="388.3" r="3.2"/><circle class="r" cx="423.8" cy="392.9" r="3.2"/><circle class="r" cx="427.6" cy="394.4" r="3.2"/><circle class="y" cx="426.1" cy="387.6" r="3.2"/><circle class="r" cx="440.4" cy="392.9" r="3.2"/><circle class="r" cx="435.9" cy="396.6" r="3.2"/><circle class="r" cx="455.4" cy="395.1" r="3.2"/><circle class="r" cx="467.4" cy="397.4" r="3.2"/><circle class="y" cx="458.4" cy="402.9" r="3.2"/><circle class="w" cx="430.9" cy="401.1" r="3.2"/><circle class="y" cx="414.1" cy="399.3" r="3.2"/><circle class="y" cx="419.8" cy="400.8" r="3.2"/><circle class="r" cx="417.1" cy="401.9" r="3.2"/><circle class="r" cx="409.5" cy="404.9" r="3.2"/><circle class="r" cx="401.3" cy="408.3" r="3.2"/><circle class="r" cx="414.8" cy="409.4" r="3.2"/><circle class="r" cx="445.3" cy="403.4" r="3.2"/><circle class="r" cx="429.1" cy="406.4" r="3.2"/><circle class="r" cx="429.8" cy="410.9" r="3.2"/><circle class="r" cx="433.6" cy="410.9" r="3.2"/><circle class="r" cx="444.9" cy="410.9" r="3.2"/><circle class="w" cx="441.1" cy="412.0" r="3.2"/><circle class="r" cx="423.8" cy="415.4" r="3.2"/><circle class="r" cx="436.6" cy="418.4" r="3.2"/><circle class="r" cx="428.3" cy="421.4" r="3.2"/><circle class="y" cx="408.0" cy="416.2" r="3.2"/><circle class="r" cx="412.3" cy="417.5" r="3.2"/><circle class="r" cx="410.3" cy="422.9" r="3.2"/><circle class="b" cx="403.2" cy="425.6" r="3.2"/><circle class="r" cx="416.3" cy="427.4" r="3.2"/><circle class="r" cx="429.6" cy="430.1" r="3.2"/><circle class="b" cx="401.3" cy="392.9" r="3.2"/><circle class="y" cx="401.3" cy="389.1" r="3.2"/><circle class="r" cx="505.2" cy="288.0" r="3.2"/><circle class="r" cx="514.7" cy="286.0" r="3.2"/><circle class="b" cx="436.1" cy="442.6" r="3.2"/>
</g>
<rect class="ax" x="321.50" y="269.50" width="208.50" height="209.00"/>
<path class="ax" d="M315.20 290.50H321.50M315.20 350.00H321.50M315.20 409.75H321.50M325.50 478.50V484.80M380.00 478.50V484.80M452.00 478.50V484.80M506.50 478.50V484.80"/>
<text class="tk" text-anchor="middle" transform="translate(309.70 290.50) rotate(-90)">20</text>
<text class="tk" text-anchor="middle" transform="translate(309.70 350.00) rotate(-90)">10</text>
<text class="tk" text-anchor="middle" transform="translate(309.70 409.75) rotate(-90)">5</text>
<text class="tk" text-anchor="middle" x="325.50" y="497.80">0.1</text>
<text class="tk" text-anchor="middle" x="380.00" y="497.80">0.2</text>
<text class="tk" text-anchor="middle" x="452.00" y="497.80">0.5</text>
<text class="tk" text-anchor="middle" x="506.50" y="497.80">1.0</text>
<text class="lb" text-anchor="middle" transform="translate(289.30 374.00) rotate(-90)">BAN</text>
<text class="lb" text-anchor="middle" x="425.75" y="517.50">BAP</text>
<text class="pl" x="280.20" y="283.20">E</text>
</g>
<g id="panel-F">
<clipPath id="cp5"><rect x="321.50" y="541.50" width="208.50" height="208.75"/></clipPath>
<g clip-path="url(#cp5)">
<line class="gy" x1="329.25" y1="554.75" x2="522.50" y2="709.50"/>
<line class="ds" x1="347.25" y1="549.75" x2="523.50" y2="691.00"/>
<line class="ds" x1="328.50" y1="574.00" x2="522.50" y2="729.50"/>
<line class="gn" x1="315.25" y1="657.39" x2="536.25" y2="581.86"/>
<circle class="r" cx="338.5" cy="581.5" r="3.2"/><circle class="y" cx="364.0" cy="612.8" r="3.2"/><circle class="w" cx="374.2" cy="618.0" r="3.2"/><circle class="w" cx="388.5" cy="604.2" r="3.2"/><circle class="w" cx="336.0" cy="644.8" r="3.2"/><circle class="r" cx="351.5" cy="650.2" r="3.2"/><circle class="r" cx="347.8" cy="657.2" r="3.2"/><circle class="r" cx="383.0" cy="644.2" r="3.2"/><circle class="r" cx="393.0" cy="647.8" r="3.2"/><circle class="y" cx="394.0" cy="641.5" r="3.2"/><circle class="y" cx="394.8" cy="623.5" r="3.2"/><circle class="y" cx="397.2" cy="634.8" r="3.2"/><circle class="r" cx="383.5" cy="656.0" r="3.2"/><circle class="b" cx="455.9" cy="551.8" r="3.2"/><circle class="b" cx="470.2" cy="552.8" r="3.2"/><circle class="b" cx="478.4" cy="559.3" r="3.2"/><circle class="b" cx="483.7" cy="557.8" r="3.2"/><circle class="w" cx="488.2" cy="560.8" r="3.2"/><circle class="b" cx="458.1" cy="564.3" r="3.2"/><circle class="w" cx="462.3" cy="566.4" r="3.2"/><circle class="b" cx="470.6" cy="565.3" r="3.2"/><circle class="b" cx="450.3" cy="567.9" r="3.2"/><circle class="b" cx="446.1" cy="570.6" r="3.2"/><circle class="b" cx="438.3" cy="572.1" r="3.2"/><circle class="b" cx="485.9" cy="567.6" r="3.2"/><circle class="b" cx="480.7" cy="571.8" r="3.2"/><circle class="b" cx="475.4" cy="575.8" r="3.2"/><circle class="b" cx="452.1" cy="576.3" r="3.2"/><circle class="b" cx="444.9" cy="578.8" r="3.2"/><circle class="b" cx="467.9" cy="579.3" r="3.2"/><circle class="b" cx="452.6" cy="582.3" r="3.2"/><circle class="w" cx="468.6" cy="583.4" r="3.2"/><circle class="b" cx="428.0" cy="583.4" r="3.2"/><circle class="b" cx="440.1" cy="586.4" r="3.2"/><circle class="b" cx="454.4" cy="586.4" r="3.2"/><circle class="b" cx="438.6" cy="590.9" r="3.2"/><circle class="b" cx="449.8" cy="590.9" r="3.2"/><circle class="b" cx="460.1" cy="590.9" r="3.2"/><circle class="w" cx="469.1" cy="589.4" r="3.2"/><circle class="w" cx="476.6" cy="592.7" r="3.2"/><circle class="b" cx="418.3" cy="592.4" r="3.2"/><circle class="b" cx="432.6" cy="592.4" r="3.2"/><circle class="w" cx="438.3" cy="596.4" r="3.2"/><circle class="y" cx="431.1" cy="599.4" r="3.2"/><circle class="w" cx="444.3" cy="600.2" r="3.2"/><circle class="b" cx="466.8" cy="598.1" r="3.2"/><circle class="b" cx="474.7" cy="603.4" r="3.2"/><circle class="b" cx="479.2" cy="602.2" r="3.2"/><circle class="b" cx="432.6" cy="605.2" r="3.2"/><circle class="r" cx="410.8" cy="610.0" r="3.2"/><circle class="b" cx="442.8" cy="610.9" r="3.2"/><circle class="b" cx="464.1" cy="609.4" r="3.2"/><circle class="b" cx="430.3" cy="616.7" r="3.2"/><circle class="b" cx="443.4" cy="617.9" r="3.2"/><circle class="y" cx="459.3" cy="618.7" r="3.2"/><circle class="y" cx="477.7" cy="615.4" r="3.2"/><circle class="b" cx="437.8" cy="620.9" r="3.2"/><circle class="b" cx="504.2" cy="553.7" r="3.2"/><circle class="w" cx="518.5" cy="566.4" r="3.2"/><circle class="b" cx="494.9" cy="575.1" r="3.2"/><circle class="b" cx="493.8" cy="585.9" r="3.2"/><circle class="b" cx="513.4" cy="584.9" r="3.2"/><circle class="y" cx="401.4" cy="614.3" r="3.2"/><circle class="y" cx="404.4" cy="621.1" r="3.2"/><circle class="b" cx="402.6" cy="630.1" r="3.2"/><circle class="r" cx="398.1" cy="630.8" r="3.2"/><circle class="r" cx="405.6" cy="640.6" r="3.2"/><circle class="r" cx="401.8" cy="648.1" r="3.2"/><circle class="b" cx="411.6" cy="645.1" r="3.2"/><circle class="r" cx="413.9" cy="643.6" r="3.2"/><circle class="r" cx="418.4" cy="640.6" r="3.2"/><circle class="y" cx="420.6" cy="639.8" r="3.2"/><circle class="r" cx="424.4" cy="636.1" r="3.2"/><circle class="r" cx="431.9" cy="638.3" r="3.2"/><circle class="r" cx="440.2" cy="645.9" r="3.2"/><circle class="w" cx="434.9" cy="645.1" r="3.2"/><circle class="y" cx="427.9" cy="645.1" r="3.2"/><circle class="y" cx="427.0" cy="648.9" r="3.2"/><circle class="r" cx="433.4" cy="651.1" r="3.2"/><circle class="y" cx="440.9" cy="653.4" r="3.2"/><circle class="r" cx="428.2" cy="654.9" r="3.2"/><circle class="b" cx="431.2" cy="660.9" r="3.2"/><circle class="b" cx="435.7" cy="656.4" r="3.2"/><circle class="y" cx="438.7" cy="658.6" r="3.2"/><circle class="r" cx="440.9" cy="663.9" r="3.2"/><circle class="r" cx="406.4" cy="652.6" r="3.2"/><circle class="r" cx="415.4" cy="654.9" r="3.2"/><circle class="w" cx="419.4" cy="657.1" r="3.2"/><circle class="r" cx="410.9" cy="657.9" r="3.2"/><circle class="r" cx="398.8" cy="659.4" r="3.2"/><circle class="r" cx="404.1" cy="660.9" r="3.2"/><circle class="b" cx="396.6" cy="664.7" r="3.2"/><circle class="r" cx="401.8" cy="665.4" r="3.2"/><circle class="r" cx="390.6" cy="665.4" r="3.2"/><circle class="r" cx="379.3" cy="666.2" r="3.2"/><circle class="y" cx="382.7" cy="666.2" r="3.2"/><circle class="r" cx="421.4" cy="664.7" r="3.2"/><circle class="r" cx="409.4" cy="667.7" r="3.2"/><circle class="r" cx="411.6" cy="669.9" r="3.2"/><circle class="r" cx="401.1" cy="669.2" r="3.2"/><circle class="r" cx="375.5" cy="673.7" r="3.2"/><circle class="y" cx="409.4" cy="674.4" r="3.2"/><circle class="b" cx="428.2" cy="672.2" r="3.2"/><circle class="y" cx="429.7" cy="675.2" r="3.2"/><circle class="y" cx="416.9" cy="677.4" r="3.2"/><circle class="r" cx="434.2" cy="676.7" r="3.2"/><circle class="r" cx="387.6" cy="677.4" r="3.2"/><circle class="y" cx="386.1" cy="676.7" r="3.2"/><circle class="r" cx="393.6" cy="678.9" r="3.2"/><circle class="b" cx="438.7" cy="624.8" r="3.2"/><circle class="r" cx="394.3" cy="679.2" r="3.2"/><circle class="y" cx="378.8" cy="681.8" r="3.2"/><circle class="r" cx="380.8" cy="683.3" r="3.2"/><circle class="r" cx="383.8" cy="687.1" r="3.2"/><circle class="r" cx="392.1" cy="686.3" r="3.2"/><circle class="r" cx="372.2" cy="692.3" r="3.2"/><circle class="w" cx="379.3" cy="691.3" r="3.2"/><circle class="r" cx="389.8" cy="691.6" r="3.2"/><circle class="r" cx="386.8" cy="695.3" r="3.2"/><circle class="r" cx="398.8" cy="690.1" r="3.2"/><circle class="r" cx="402.6" cy="687.8" r="3.2"/><circle class="r" cx="407.1" cy="686.3" r="3.2"/><circle class="y" cx="413.9" cy="685.6" r="3.2"/><circle class="r" cx="415.4" cy="687.8" r="3.2"/><circle class="r" cx="409.7" cy="693.8" r="3.2"/><circle class="w" cx="397.8" cy="698.6" r="3.2"/><circle class="r" cx="402.6" cy="703.6" r="3.2"/><circle class="b" cx="412.8" cy="703.6" r="3.2"/><circle class="r" cx="401.8" cy="738.2" r="3.2"/><circle class="r" cx="433.4" cy="690.8" r="3.2"/><circle class="r" cx="437.2" cy="690.8" r="3.2"/><circle class="r" cx="428.9" cy="683.3" r="3.2"/><circle class="y" cx="423.6" cy="679.5" r="3.2"/><circle class="r" cx="410.9" cy="678.0" r="3.2"/><circle class="r" cx="438.7" cy="681.1" r="3.2"/><circle class="y" cx="464.6" cy="628.5" r="3.2"/><circle class="b" cx="452.6" cy="633.8" r="3.2"/><circle class="b" cx="460.8" cy="642.0" r="3.2"/><circle class="r" cx="466.5" cy="639.3" r="3.2"/><circle class="b" cx="488.3" cy="665.9" r="3.2"/><circle class="r" cx="458.6" cy="664.1" r="3.2"/><circle class="r" cx="449.1" cy="663.4" r="3.2"/>
</g>
<rect class="ax" x="321.50" y="541.50" width="208.50" height="208.75"/>
<path class="ax" d="M315.20 548.50H321.50M315.20 576.00H321.50M315.20 597.25H321.50M315.20 618.00H321.50M315.20 646.00H321.50M315.20 667.00H321.50M315.20 688.00H321.50M315.20 716.00H321.50M315.20 737.00H321.50M348.00 750.25V756.55M428.50 750.25V756.55M489.50 750.25V756.55"/>
<text class="tk" text-anchor="middle" transform="translate(309.70 576.00) rotate(-90)">200</text>
<text class="tk" text-anchor="middle" transform="translate(309.70 618.00) rotate(-90)">50</text>
<text class="tk" text-anchor="middle" transform="translate(309.70 646.00) rotate(-90)">20</text>
<text class="tk" text-anchor="middle" transform="translate(309.70 688.00) rotate(-90)">5</text>
<text class="tk" text-anchor="middle" transform="translate(309.70 716.00) rotate(-90)">2</text>
<text class="tk" text-anchor="middle" transform="translate(309.70 737.00) rotate(-90)">1</text>
<text class="tk" text-anchor="middle" x="348.00" y="769.55">20</text>
<text class="tk" text-anchor="middle" x="428.50" y="769.55">50</text>
<text class="tk" text-anchor="middle" x="489.50" y="769.55">100</text>
<text class="lb" text-anchor="middle" transform="translate(289.30 645.88) rotate(-90)">DIN:DIP</text>
<text class="lb" text-anchor="middle" x="425.75" y="789.25">TN:TP</text>
<text class="pl" x="280.20" y="555.20">F</text>
</g>
<g id="panel-G">
<clipPath id="cp6"><rect x="321.50" y="812.50" width="208.50" height="208.75"/></clipPath>
<g clip-path="url(#cp6)">
<line class="gy" x1="329.25" y1="881.50" x2="522.00" y2="926.00"/>
<line class="ds" x1="328.50" y1="863.25" x2="523.50" y2="908.40"/>
<line class="ds" x1="328.50" y1="898.25" x2="523.50" y2="944.50"/>
<line class="gn" x1="315.25" y1="942.70" x2="536.25" y2="891.55"/>
<circle class="b" cx="376.4" cy="822.9" r="3.2"/><circle class="b" cx="389.1" cy="823.5" r="3.2"/><circle class="b" cx="397.0" cy="829.1" r="3.2"/><circle class="w" cx="395.5" cy="837.6" r="3.2"/><circle class="b" cx="384.4" cy="843.2" r="3.2"/><circle class="b" cx="395.2" cy="847.3" r="3.2"/><circle class="b" cx="401.7" cy="850.3" r="3.2"/><circle class="b" cx="406.8" cy="846.6" r="3.2"/><circle class="b" cx="409.8" cy="846.0" r="3.2"/><circle class="b" cx="410.6" cy="850.7" r="3.2"/><circle class="b" cx="411.7" cy="853.5" r="3.2"/><circle class="r" cx="416.2" cy="852.6" r="3.2"/><circle class="b" cx="342.9" cy="854.8" r="3.2"/><circle class="b" cx="367.9" cy="862.0" r="3.2"/><circle class="w" cx="378.6" cy="867.6" r="3.2"/><circle class="w" cx="387.1" cy="875.2" r="3.2"/><circle class="b" cx="398.3" cy="861.1" r="3.2"/><circle class="w" cx="402.7" cy="859.7" r="3.2"/><circle class="b" cx="406.1" cy="862.9" r="3.2"/><circle class="b" cx="414.3" cy="863.5" r="3.2"/><circle class="b" cx="398.3" cy="876.1" r="3.2"/><circle class="r" cx="401.7" cy="881.2" r="3.2"/><circle class="w" cx="420.0" cy="871.0" r="3.2"/><circle class="b" cx="428.0" cy="874.8" r="3.2"/><circle class="y" cx="432.4" cy="870.5" r="3.2"/><circle class="b" cx="429.5" cy="859.2" r="3.2"/><circle class="b" cx="431.8" cy="863.5" r="3.2"/><circle class="w" cx="433.7" cy="853.5" r="3.2"/><circle class="b" cx="434.2" cy="847.3" r="3.2"/><circle class="b" cx="401.2" cy="889.8" r="3.2"/><circle class="w" cx="413.9" cy="888.9" r="3.2"/><circle class="y" cx="424.3" cy="886.4" r="3.2"/><circle class="y" cx="421.8" cy="890.6" r="3.2"/><circle class="y" cx="407.0" cy="894.9" r="3.2"/><circle class="w" cx="431.8" cy="896.8" r="3.2"/><circle class="y" cx="434.6" cy="892.1" r="3.2"/><circle class="b" cx="384.8" cy="901.5" r="3.2"/><circle class="r" cx="403.0" cy="902.4" r="3.2"/><circle class="y" cx="401.7" cy="905.8" r="3.2"/><circle class="y" cx="374.5" cy="905.2" r="3.2"/><circle class="w" cx="380.7" cy="907.1" r="3.2"/><circle class="r" cx="421.5" cy="907.1" r="3.2"/><circle class="y" cx="388.2" cy="911.8" r="3.2"/><circle class="y" cx="396.1" cy="912.7" r="3.2"/><circle class="b" cx="377.9" cy="912.7" r="3.2"/><circle class="r" cx="359.8" cy="911.8" r="3.2"/><circle class="r" cx="349.1" cy="914.2" r="3.2"/><circle class="r" cx="413.9" cy="913.7" r="3.2"/><circle class="r" cx="417.7" cy="913.7" r="3.2"/><circle class="r" cx="432.7" cy="911.8" r="3.2"/><circle class="b" cx="443.4" cy="824.4" r="3.2"/><circle class="w" cx="442.9" cy="831.9" r="3.2"/><circle class="b" cx="452.3" cy="830.4" r="3.2"/><circle class="b" cx="451.7" cy="836.6" r="3.2"/><circle class="b" cx="453.2" cy="841.7" r="3.2"/><circle class="b" cx="448.5" cy="843.2" r="3.2"/><circle class="b" cx="470.1" cy="835.1" r="3.2"/><circle class="b" cx="503.6" cy="838.9" r="3.2"/><circle class="b" cx="442.3" cy="856.0" r="3.2"/><circle class="w" cx="444.7" cy="858.6" r="3.2"/><circle class="b" cx="455.5" cy="857.3" r="3.2"/><circle class="b" cx="458.3" cy="857.3" r="3.2"/><circle class="b" cx="472.0" cy="857.3" r="3.2"/><circle class="b" cx="509.2" cy="862.0" r="3.2"/><circle class="b" cx="504.9" cy="869.5" r="3.2"/><circle class="b" cx="478.0" cy="873.6" r="3.2"/><circle class="b" cx="477.3" cy="880.8" r="3.2"/><circle class="b" cx="468.6" cy="881.7" r="3.2"/><circle class="y" cx="467.9" cy="885.5" r="3.2"/><circle class="y" cx="450.4" cy="883.6" r="3.2"/><circle class="b" cx="457.5" cy="887.9" r="3.2"/><circle class="b" cx="447.6" cy="893.6" r="3.2"/><circle class="b" cx="437.8" cy="896.8" r="3.2"/><circle class="b" cx="441.5" cy="904.3" r="3.2"/><circle class="b" cx="455.1" cy="905.8" r="3.2"/><circle class="r" cx="455.1" cy="909.5" r="3.2"/><circle class="r" cx="445.3" cy="910.9" r="3.2"/><circle class="y" cx="437.2" cy="911.2" r="3.2"/><circle class="y" cx="504.3" cy="899.6" r="3.2"/><circle class="r" cx="509.6" cy="910.5" r="3.2"/><circle class="w" cx="489.8" cy="914.2" r="3.2"/><circle class="y" cx="347.2" cy="924.1" r="3.2"/><circle class="r" cx="356.2" cy="923.6" r="3.2"/><circle class="r" cx="360.6" cy="936.1" r="3.2"/><circle class="r" cx="359.2" cy="939.1" r="3.2"/><circle class="r" cx="351.6" cy="947.8" r="3.2"/><circle class="y" cx="366.3" cy="952.6" r="3.2"/><circle class="r" cx="369.3" cy="960.9" r="3.2"/><circle class="r" cx="365.9" cy="963.5" r="3.2"/><circle class="w" cx="388.1" cy="969.5" r="3.2"/><circle class="r" cx="392.6" cy="962.4" r="3.2"/><circle class="r" cx="390.4" cy="949.6" r="3.2"/><circle class="r" cx="384.4" cy="940.9" r="3.2"/><circle class="r" cx="386.6" cy="942.9" r="3.2"/><circle class="y" cx="388.9" cy="936.4" r="3.2"/><circle class="r" cx="394.9" cy="934.3" r="3.2"/><circle class="r" cx="397.9" cy="936.8" r="3.2"/><circle class="r" cx="403.2" cy="936.5" r="3.2"/><circle class="r" cx="398.9" cy="928.6" r="3.2"/><circle class="r" cx="407.2" cy="927.4" r="3.2"/><circle class="r" cx="412.9" cy="932.3" r="3.2"/><circle class="r" cx="414.4" cy="939.8" r="3.2"/><circle class="r" cx="405.4" cy="944.4" r="3.2"/><circle class="y" cx="402.9" cy="947.4" r="3.2"/><circle class="r" cx="401.4" cy="951.1" r="3.2"/><circle class="r" cx="406.9" cy="953.4" r="3.2"/><circle class="r" cx="411.4" cy="951.1" r="3.2"/><circle class="r" cx="400.6" cy="958.6" r="3.2"/><circle class="r" cx="406.2" cy="957.9" r="3.2"/><circle class="r" cx="412.9" cy="957.9" r="3.2"/><circle class="y" cx="418.2" cy="956.8" r="3.2"/><circle class="r" cx="419.7" cy="973.7" r="3.2"/><circle class="w" cx="371.6" cy="916.8" r="3.2"/><circle class="r" cx="373.8" cy="918.8" r="3.2"/><circle class="r" cx="380.3" cy="918.8" r="3.2"/><circle class="r" cx="379.8" cy="922.6" r="3.2"/><circle class="r" cx="394.1" cy="916.2" r="3.2"/><circle class="y" cx="394.9" cy="921.1" r="3.2"/><circle class="r" cx="396.4" cy="921.8" r="3.2"/><circle class="r" cx="400.9" cy="918.8" r="3.2"/><circle class="w" cx="418.2" cy="927.8" r="3.2"/><circle class="r" cx="418.2" cy="930.8" r="3.2"/><circle class="b" cx="442.8" cy="915.8" r="3.2"/><circle class="r" cx="422.0" cy="915.0" r="3.2"/><circle class="r" cx="441.3" cy="925.9" r="3.2"/><circle class="r" cx="433.3" cy="928.6" r="3.2"/><circle class="r" cx="454.1" cy="926.8" r="3.2"/><circle class="y" cx="460.4" cy="925.6" r="3.2"/><circle class="b" cx="462.6" cy="927.1" r="3.2"/><circle class="r" cx="417.5" cy="935.3" r="3.2"/><circle class="r" cx="428.8" cy="934.6" r="3.2"/><circle class="b" cx="434.5" cy="935.8" r="3.2"/><circle class="r" cx="435.3" cy="940.9" r="3.2"/><circle class="r" cx="449.1" cy="935.8" r="3.2"/><circle class="r" cx="453.3" cy="935.3" r="3.2"/><circle class="y" cx="452.6" cy="937.6" r="3.2"/><circle class="b" cx="450.3" cy="944.4" r="3.2"/><circle class="y" cx="444.6" cy="947.4" r="3.2"/><circle class="r" cx="442.3" cy="950.4" r="3.2"/><circle class="r" cx="449.1" cy="948.9" r="3.2"/><circle class="r" cx="446.8" cy="954.1" r="3.2"/><circle class="y" cx="422.3" cy="945.1" r="3.2"/><circle class="y" cx="425.0" cy="948.4" r="3.2"/><circle class="y" cx="420.8" cy="951.9" r="3.2"/><circle class="r" cx="423.2" cy="957.9" r="3.2"/><circle class="w" cx="434.1" cy="959.4" r="3.2"/><circle class="r" cx="436.3" cy="961.7" r="3.2"/><circle class="r" cx="443.4" cy="961.7" r="3.2"/><circle class="r" cx="434.8" cy="965.4" r="3.2"/><circle class="r" cx="436.8" cy="968.4" r="3.2"/><circle class="r" cx="422.8" cy="974.4" r="3.2"/><circle class="b" cx="437.1" cy="974.4" r="3.2"/><circle class="b" cx="489.7" cy="936.8" r="3.2"/><circle class="y" cx="495.0" cy="930.5" r="3.2"/><circle class="r" cx="405.0" cy="1009.5" r="3.2"/>
</g>
<rect class="ax" x="321.50" y="812.50" width="208.50" height="208.75"/>
<path class="ax" d="M315.20 819.50H321.50M315.20 847.00H321.50M315.20 868.25H321.50M315.20 889.00H321.50M315.20 917.00H321.50M315.20 938.00H321.50M315.20 959.00H321.50M315.20 987.00H321.50M315.20 1008.00H321.50M333.00 1021.25V1027.55M386.75 1021.25V1027.55M425.00 1021.25V1027.55M454.50 1021.25V1027.55M478.60 1021.25V1027.55M499.30 1021.25V1027.55M516.50 1021.25V1027.55"/>
<text class="tk" text-anchor="middle" transform="translate(309.70 847.00) rotate(-90)">200</text>
<text class="tk" text-anchor="middle" transform="translate(309.70 889.00) rotate(-90)">50</text>
<text class="tk" text-anchor="middle" transform="translate(309.70 917.00) rotate(-90)">20</text>
<text class="tk" text-anchor="middle" transform="translate(309.70 959.00) rotate(-90)">5</text>
<text class="tk" text-anchor="middle" transform="translate(309.70 987.00) rotate(-90)">2</text>
<text class="tk" text-anchor="middle" transform="translate(309.70 1008.00) rotate(-90)">1</text>
<text class="tk" text-anchor="middle" x="333.00" y="1040.55">10</text>
<text class="tk" text-anchor="middle" x="386.75" y="1040.55">15</text>
<text class="tk" text-anchor="middle" x="425.00" y="1040.55">20</text>
<text class="tk" text-anchor="middle" x="454.50" y="1040.55">25</text>
<text class="tk" text-anchor="middle" x="499.30" y="1040.55">35</text>
<text class="lb" text-anchor="middle" transform="translate(289.30 916.88) rotate(-90)">DIN:DIP</text>
<text class="lb" text-anchor="middle" x="425.75" y="1060.25">PON:POP</text>
<text class="pl" x="280.20" y="826.20">G</text>
</g>
<g id="legend">
<rect class="ax" x="69.7" y="857.4" width="127.1" height="101" fill="#fff"/>
<circle class="w" cx="87.1" cy="877.6" r="3.9"/><text class="lg" x="98.2" y="882.1" textLength="74.4" lengthAdjust="spacingAndGlyphs">No limitation</text>
<circle class="r" cx="87.1" cy="898.9" r="3.9"/><text class="lg" x="98.2" y="903.4" textLength="66.5" lengthAdjust="spacingAndGlyphs">N limitation</text>
<circle class="y" cx="87.1" cy="920.5" r="3.9"/><text class="lg" x="98.2" y="925.0" textLength="82.3" lengthAdjust="spacingAndGlyphs">N+P limitation</text>
<circle class="b" cx="87.1" cy="941.6" r="3.9"/><text class="lg" x="98.2" y="946.1" textLength="65.0" lengthAdjust="spacingAndGlyphs">P limitation</text>
</g>
</svg>
</body></html>
